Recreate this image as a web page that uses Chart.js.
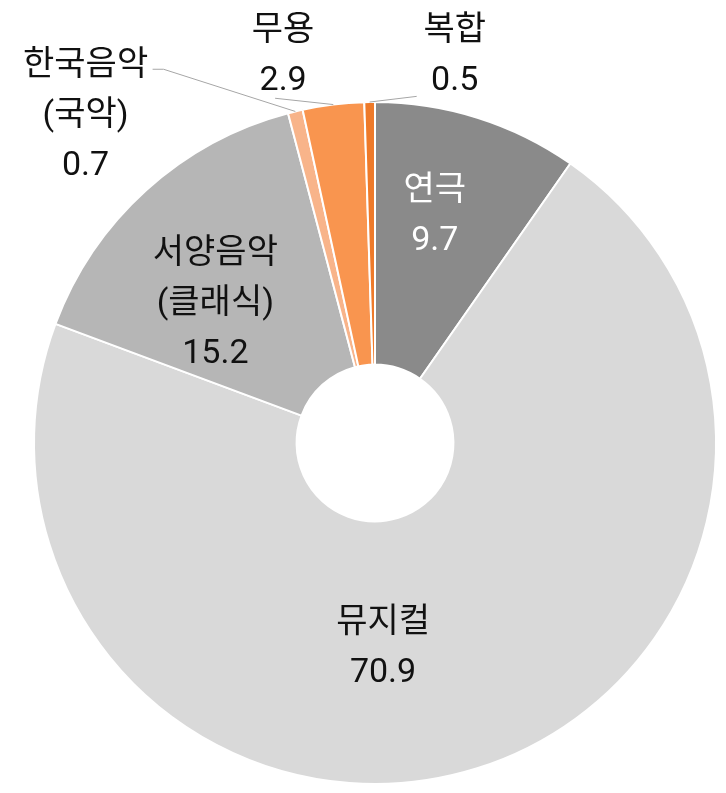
<!DOCTYPE html>
<html lang="ko">
<head>
<meta charset="utf-8">
<title>공연 장르별 비중</title>
<script src="https://cdn.jsdelivr.net/npm/chart.js@4/dist/chart.umd.min.js"></script>
<style>
  html, body { margin: 0; padding: 0; background: #fff; }
  #wrap { width: 726px; height: 793px; position: relative; }
</style>
</head>
<body>
<div id="wrap"><canvas id="genreChart"></canvas></div>
<script>
// genre names (one entry per line of the label) and their shares in %
const categories = [['연극'], ['뮤지컬'], ['서양음악', '(클래식)'], ['한국음악', '(국악)'], ['무용'], ['복합']];
const shares = [9.7, 70.9, 15.2, 0.7, 2.9, 0.5];
const sliceColors = ['#8a8a8a', '#d9d9d9', '#b6b6b6', '#f8b48a', '#f9954f', '#ee7a2a'];

// where each label block sits: r = fraction of the outer radius, a = degrees clockwise from top
const labelPlacement = [
  { r: 0.70, a: 14.5, color: '#ffffff' },
  { r: 0.588, a: 177.7, color: '#111111' },
  { r: 0.63, a: 312.0, color: '#111111' },
  { r: 1.291, a: 318.9, color: '#111111', leader: [[78, -42], [67, -42]] },
  { r: 1.18, a: 346.8, color: '#111111', leader: [[-8, 47]] },
  { r: 1.172, a: 11.5, color: '#111111', leader: [[-38, 45]] }
];

const fontSize = 34;
const lineGap = 50;
const textNudge = 5; // canvas 'middle' sits a little high for the Hangul fallback
const fontFamily = "Roboto, 'Noto Sans CJK KR', sans-serif";

const labelPlugin = {
  id: 'sliceLabels',
  afterDatasetsDraw(chart) {
    const { ctx } = chart;
    const arcs = chart.getDatasetMeta(0).data;

    ctx.save();
    arcs.forEach((arc, i) => {
      const { x, y, startAngle, endAngle, outerRadius } = arc.getProps(['x', 'y', 'startAngle', 'endAngle', 'outerRadius'], true);
      const place = labelPlacement[i];
      const rad = place.a * Math.PI / 180;
      const lx = x + place.r * outerRadius * Math.sin(rad);
      const ly = y - place.r * outerRadius * Math.cos(rad);

      if (place.leader) {
        const mid = (startAngle + endAngle) / 2;
        ctx.beginPath();
        ctx.moveTo(x + outerRadius * Math.cos(mid), y + outerRadius * Math.sin(mid));
        place.leader.forEach(([dx, dy]) => ctx.lineTo(lx + dx, ly + dy));
        ctx.strokeStyle = '#a6a6a6';
        ctx.lineWidth = 1;
        ctx.stroke();
      }

      const lines = [...categories[i], shares[i].toFixed(1)];
      const top = ly - (lines.length - 1) * lineGap / 2 + textNudge;
      ctx.font = `${fontSize}px ${fontFamily}`;
      ctx.fillStyle = place.color;
      ctx.textAlign = 'center';
      ctx.textBaseline = 'middle';
      lines.forEach((text, k) => ctx.fillText(text, lx, top + k * lineGap));
    });
    ctx.restore();
  }
};

new Chart(document.getElementById('genreChart'), {
  type: 'doughnut',
  data: {
    labels: categories.map((c) => c.join(' ')),
    datasets: [{
      data: shares,
      backgroundColor: sliceColors,
      borderColor: '#ffffff',
      borderWidth: 2
    }]
  },
  options: {
    responsive: true,
    maintainAspectRatio: false,
    animation: false,
    cutout: '23%',
    layout: {
      padding: { top: 101, bottom: 8, left: 33, right: 9 }
    },
    plugins: {
      legend: { display: false },
      tooltip: { enabled: false }
    }
  },
  plugins: [labelPlugin]
});
</script>
</body>
</html>
